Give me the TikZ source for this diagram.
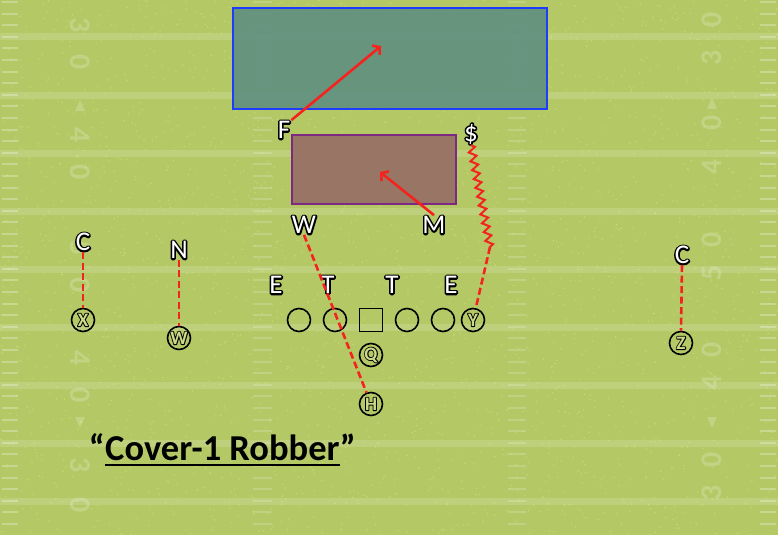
\documentclass[tikz,border=0pt]{standalone}
\usepackage{fontspec}
\setmainfont{Carlito}
\usetikzlibrary{arrows.meta,decorations.pathmorphing}
\definecolor{field}{RGB}{180,200,102}
\definecolor{fieldlt}{RGB}{205,218,140}
\definecolor{speck}{RGB}{212,228,115}
\definecolor{rd}{RGB}{245,35,30}
\definecolor{bluebox}{RGB}{30,60,255}
\definecolor{bluefill}{RGB}{95,143,128}
\definecolor{purp}{RGB}{125,40,130}
\definecolor{purpfill}{RGB}{150,108,100}
\tikzset{
  dlet/.style={font=\fontsize{27}{27}\selectfont, inner sep=1pt},
  olet/.style={font=\bfseries\fontsize{19}{19}\selectfont, inner sep=0pt},
  plyr/.style={circle, draw=black, line width=1.6pt, minimum size=23pt, inner sep=0pt},
  center/.style={rectangle, draw=black, line width=1.6pt, minimum size=23pt, inner sep=0pt},
  rline/.style={draw=rd, line width=2.6pt},
  rdash/.style={rline, dash pattern=on 7pt off 3.5pt},
  rarrow/.style={rline, -{Straight Barb[length=5pt,width=12pt]}},
  zig/.style={draw=rd, line width=2pt, decorate, decoration={zigzag, segment length=9pt, amplitude=3.5pt}},
  fnum/.style={font=\bfseries\fontsize{30}{30}\selectfont, text=white, text opacity=0.2, inner sep=0pt},
  ttl/.style={font=\bfseries\fontsize{36.5}{36.5}\selectfont, inner sep=0pt},
}
\newcommand\strk[2]{\special{pdf:literal direct #1 w 1 j 1 Tr 0 0 0 RG}#2\special{pdf:literal direct 0 Tr}}
\newcommand\dlab[3]{%
  \node[dlet] at (#2) {\strk{3.2}{#3}};
  \node[dlet,text=white] (#1) at (#2) {#3};}
\newcommand\olab[3]{%
  \node[plyr] (#1) at (#2) {};
  \node[olet] at (#2) {\strk{1.8}{#3}};
  \node[olet,text=fieldlt] at (#2) {#3};}
\begin{document}
\begin{tikzpicture}[x=1pt,y=-1pt]
\useasboundingbox (0,0) rectangle (778,535);
% field
\fill[field] (0,0) rectangle (778,535);
\pgfmathsetseed{7}
\foreach \i in {1,...,2400}{\fill[speck, opacity=0.6] ({rnd*778},{rnd*535}) circle (0.8pt);}
% yard lines
\foreach \k in {0,...,8}{\fill[white, opacity=0.15] (0,{37+58*\k-3.5}) rectangle (778,{37+58*\k+3.5});}
% side ticks and hash marks
\foreach \k in {0,...,46}{
  \draw[white, opacity=0.28, line width=2pt] (2,{2+11.6*\k}) -- (18,{2+11.6*\k});
  \draw[white, opacity=0.28, line width=2pt] (760,{2+11.6*\k}) -- (776,{2+11.6*\k});
  \draw[white, opacity=0.18, line width=2pt] (253,{2+11.6*\k}) -- (272,{2+11.6*\k});
  \draw[white, opacity=0.18, line width=2pt] (508,{2+11.6*\k}) -- (526,{2+11.6*\k});
}
% field numbers
\foreach \d/\yy in {3/25,0/62,4/135,0/172,5/248,0/285,4/358,0/395,3/465,0/505}
  {\node[fnum, rotate=-90] at (80,\yy) {\d};}
\foreach \d/\yy in {0/20,3/58,0/123,4/167,0/240,5/273,0/350,4/383,0/460,3/493}
  {\node[fnum, rotate=90] at (712,\yy) {\d};}
\fill[white, opacity=0.2] (80,100) -- (75,111) -- (85,111) -- cycle;
\fill[white, opacity=0.2] (80,428) -- (75,417) -- (85,417) -- cycle;
\fill[white, opacity=0.2] (712,98) -- (707,109) -- (717,109) -- cycle;
\fill[white, opacity=0.2] (712,428) -- (707,417) -- (717,417) -- cycle;
% zones
\filldraw[draw=bluebox, fill=bluefill, fill opacity=0.9, line width=2.8pt] (233,8) rectangle (547,109);
\filldraw[draw=purp, fill=purpfill, fill opacity=0.9, line width=2.2pt] (292,135) rectangle (456,204);
% offense
\olab{X}{83,320}{X}
\olab{Wr}{179,338}{W}
\olab{Z}{681,343}{Z}
\node[plyr] (LT) at (299,320) {};
\node[plyr] (LG) at (335,320) {};
\node[center] (Cn) at (371,320) {};
\node[plyr] (RG) at (407,320) {};
\node[plyr] (RT) at (443,320) {};
\olab{Y}{473,320}{Y}
\olab{Q}{371,355}{Q}
\olab{H}{371,404}{H}
% defense labels
\dlab{F}{284,130}{F}
\dlab{S}{471,134}{\$}
\dlab{Wd}{304,225}{W}
\dlab{M}{434,225}{M}
\dlab{E1}{276,285}{E}
\dlab{T1}{328,285}{T}
\dlab{T2}{392,285}{T}
\dlab{E2}{451,285}{E}
\dlab{CL}{83,242}{C}
\dlab{N}{179,250}{N}
\dlab{CR}{682,255}{C}
% coverage paths
\coordinate (fT) at (381,46);
\coordinate (mT) at (380,172);
\coordinate (zz) at (490,247);
\draw[rarrow] (F.north east) -- (fT);
\draw[rarrow] (M.north) -- (mT);
\draw[zig] (S.south) -- (zz);
\draw[rdash] (zz) -- (Y);
\draw[rdash] (Wd.south) -- (H);
\draw[rdash] (CL.south) -- (X.north);
\draw[rdash] (N.south) -- (Wr.north);
\draw[rdash] (CR.south) -- (Z.north);
% title
\node[ttl, anchor=base east] (oq) at (105,460) {“};
\node[ttl, anchor=base west] (tt) at (oq.base east) {Cover-1 Robber};
\node[ttl, anchor=base west] (cq) at (tt.base east) {”};
\draw[line width=2pt] ([yshift=-4.5pt]tt.base west) -- ([yshift=-4.5pt]tt.base east);
\end{tikzpicture}
\end{document}
